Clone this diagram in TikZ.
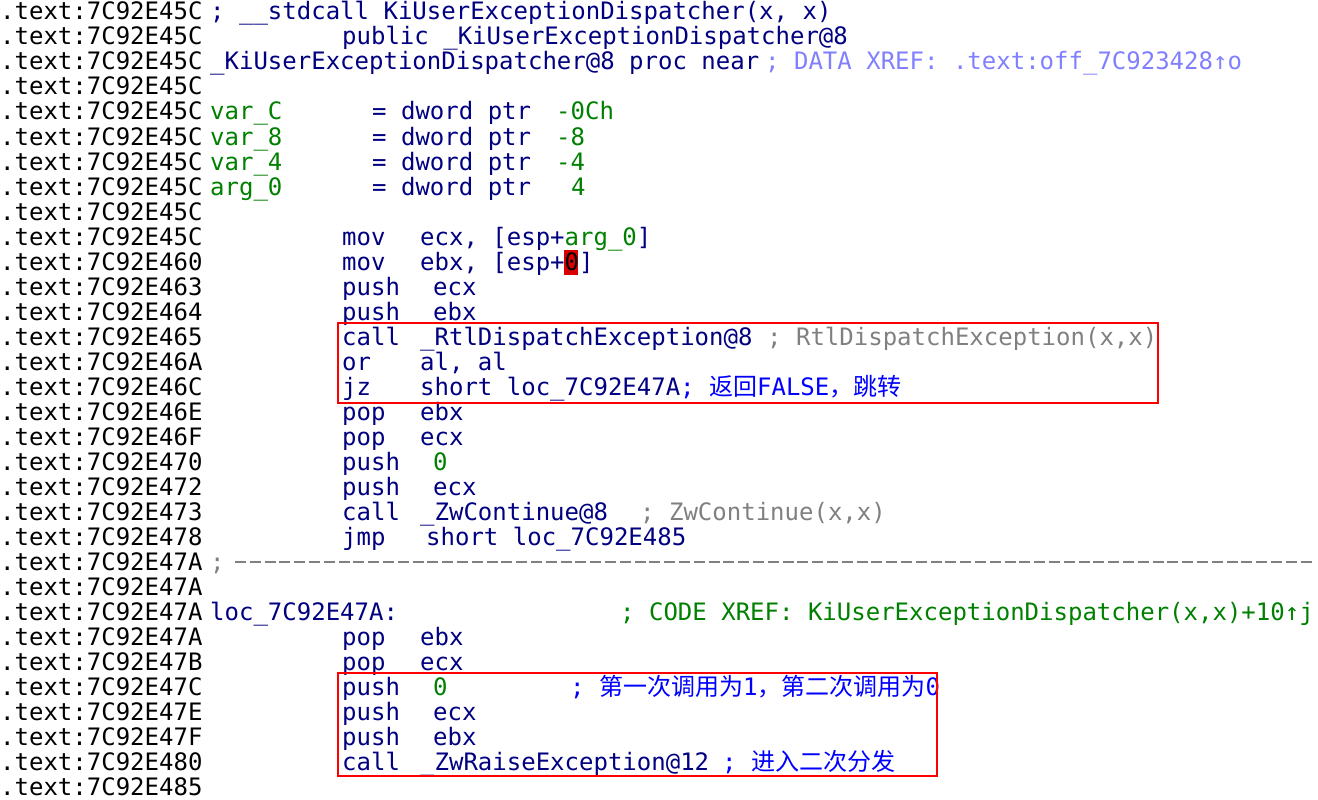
\documentclass[tikz,border=0pt]{standalone}
\usepackage{fontspec}
\setmonofont{DejaVu Sans Mono}
\newfontfamily\cjk{Noto Sans CJK SC}
\definecolor{navy}{RGB}{0,0,128}
\definecolor{grn}{RGB}{0,128,0}
\definecolor{gry}{RGB}{128,128,128}
\definecolor{lblue}{RGB}{128,128,255}
\definecolor{blu}{RGB}{0,0,255}
\tikzset{t/.style={anchor=base west,inner sep=0pt,font=\ttfamily\fontsize{24}{25}\selectfont}}
\newcommand\R[1]{\fpeval{20+25*#1}}
\newcommand\sg[4]{\node[t,text=#3] at (#1,\R{#2}) {#4};}
\begin{document}
\begin{tikzpicture}[x=1pt,y=-1pt]
\useasboundingbox (0,0) rectangle (1318,800);
\foreach \i/\a in {0/45C,1/45C,2/45C,3/45C,4/45C,5/45C,6/45C,7/45C,8/45C,9/45C,10/460,11/463,12/464,13/465,14/46A,15/46C,16/46E,17/46F,18/470,19/472,20/473,21/478,22/47A,23/47A,24/47A,25/47A,26/47B,27/47C,28/47E,29/47F,30/480,31/485}
  \node[t] at (0,20+25*\i) {.text:7C92E\a};
\sg{210}{0}{navy}{; \_\_stdcall KiUserExceptionDispatcher(x, x)}
\sg{342}{1}{navy}{public \_KiUserExceptionDispatcher@8}
\sg{210}{2}{navy}{\_KiUserExceptionDispatcher@8 proc near}
\sg{765}{2}{lblue}{; DATA XREF: .text:off\_7C923428↑o}
\foreach \i/\v/\n in {4/var\_C/-0Ch,5/var\_8/-8,6/var\_4/-4,7/arg\_0/ 4}{
  \node[t,text=grn] at (210,20+25*\i) {\v};
  \node[t,text=navy] at (372,20+25*\i) {= dword ptr};
}
\sg{556}{4}{grn}{-0Ch}
\sg{556}{5}{grn}{-8}
\sg{556}{6}{grn}{-4}
\sg{571}{7}{grn}{4}
\foreach \i/\op in {9/mov,10/mov,11/push,12/push,13/call,14/or,15/jz,16/pop,17/pop,18/push,19/push,20/call,21/jmp,25/pop,26/pop,27/push,28/push,29/push,30/call}
  \node[t,text=navy] at (342,20+25*\i) {\op};
\sg{420}{9}{navy}{ecx, [esp+\textcolor{grn}{arg\_0}]}
\fill[red!85!black] (564,\R{10}-20) rectangle (578,\R{10}+5);
\sg{420}{10}{navy}{ebx, [esp+\textcolor{black}{0}]}
\sg{433}{11}{navy}{ecx}
\sg{433}{12}{navy}{ebx}
\sg{420}{13}{navy}{\_RtlDispatchException@8}
\sg{767}{13}{gry}{; RtlDispatchException(x,x)}
\sg{420}{14}{navy}{al, al}
\sg{420}{15}{navy}{short loc\_7C92E47A}
\sg{680}{15}{blu}{; {\cjk 返回}FALSE{\cjk ，跳转}}
\sg{420}{16}{navy}{ebx}
\sg{420}{17}{navy}{ecx}
\sg{433}{18}{grn}{0}
\sg{433}{19}{navy}{ecx}
\sg{420}{20}{navy}{\_ZwContinue@8}
\sg{640}{20}{gry}{; ZwContinue(x,x)}
\sg{426}{21}{navy}{short loc\_7C92E485}
\sg{210}{22}{gry}{;}
\draw[gry,line width=1.5pt,dash pattern=on 11pt off 3.8pt] (235,\R{22}-8) -- (1315,\R{22}-8);
\sg{210}{24}{navy}{loc\_7C92E47A:}
\sg{620}{24}{grn}{; CODE XREF: KiUserExceptionDispatcher(x,x)+10↑j}
\sg{420}{25}{navy}{ebx}
\sg{420}{26}{navy}{ecx}
\sg{433}{27}{grn}{0}
\sg{570}{27}{blu}{; {\cjk 第一次调用为}1{\cjk ，第二次调用为}0}
\sg{433}{28}{navy}{ecx}
\sg{433}{29}{navy}{ebx}
\sg{420}{30}{navy}{\_ZwRaiseException@12}
\sg{722}{30}{blu}{; {\cjk 进入二次分发}}
\draw[red,line width=1.5pt] (338,323) rectangle (1158,403);
\draw[red,line width=1.5pt] (338,673) rectangle (937,776);
\end{tikzpicture}
\end{document}
